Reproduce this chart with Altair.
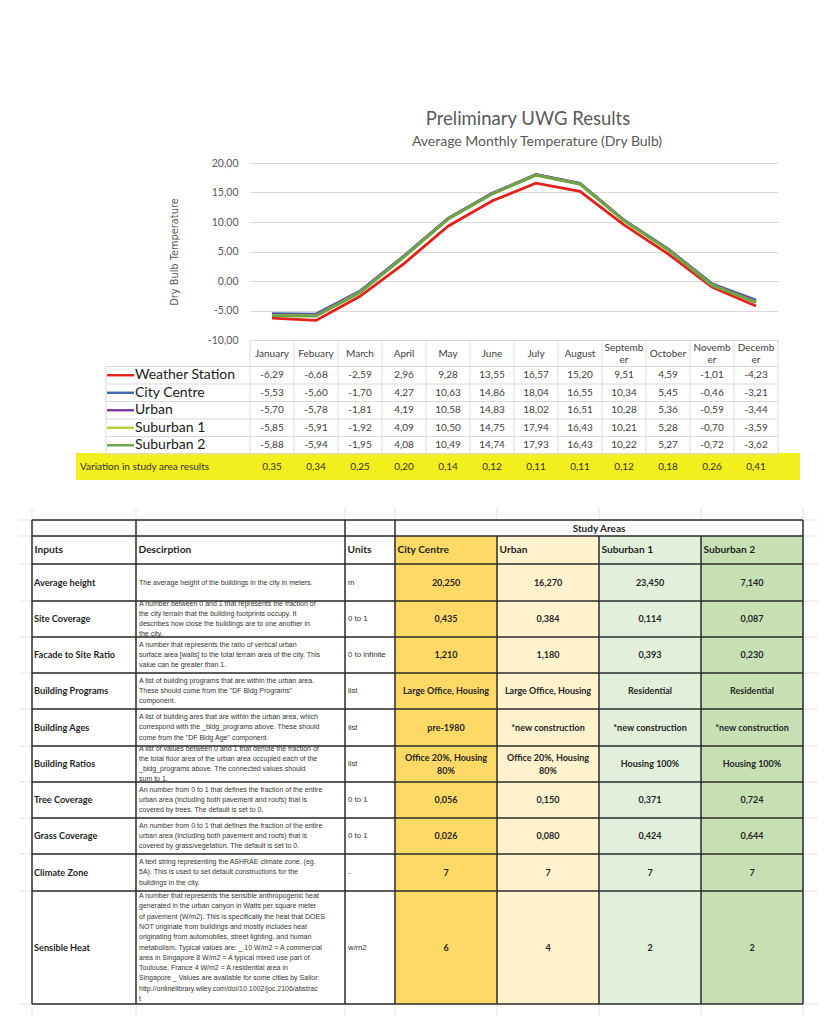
import altair as alt
import pandas as pd

# ---------------- data ----------------
main_title = "Preliminary UWG Results"
sub_title = "Average Monthly Temperature (Dry Bulb)"
y_title = "Dry Bulb Temperature"

months = ["January", "Febuary", "March", "April", "May", "June", "July",
          "August", "September", "October", "November", "December"]
month_labels = ["January", "Febuary", "March", "April", "May", "June", "July",
                "August", "Septemb\ner", "October", "Novemb\ner", "Decemb\ner"]
series_names = ["Weather Station", "City Centre", "Urban", "Suburban 1", "Suburban 2"]
weather_station = [-6.29, -6.68, -2.59, 2.96, 9.28, 13.55, 16.57, 15.20, 9.51, 4.59, -1.01, -4.23]
city_centre = [-5.53, -5.60, -1.70, 4.27, 10.63, 14.86, 18.04, 16.55, 10.34, 5.45, -0.46, -3.21]
urban = [-5.70, -5.78, -1.81, 4.19, 10.58, 14.83, 18.02, 16.51, 10.28, 5.36, -0.59, -3.44]
suburban_1 = [-5.85, -5.91, -1.92, 4.09, 10.50, 14.75, 17.94, 16.43, 10.21, 5.28, -0.70, -3.59]
suburban_2 = [-5.88, -5.94, -1.95, 4.08, 10.49, 14.74, 17.93, 16.43, 10.22, 5.27, -0.72, -3.62]
series_values = [weather_station, city_centre, urban, suburban_1, suburban_2]
variation_label = "Variation in study area results"
variation = [0.35, 0.34, 0.25, 0.20, 0.14, 0.12, 0.11, 0.11, 0.12, 0.18, 0.26, 0.41]
y_ticks = [-10, -5, 0, 5, 10, 15, 20]

study_area_title = "Study Areas"
table_headers = ["Inputs", "Descirption", "Units", "City Centre", "Urban", "Suburban 1", "Suburban 2"]
inputs = ["Average height", "Site Coverage", "Facade to Site Ratio", "Building Programs",
          "Building Ages", "Building Ratios", "Tree Coverage", "Grass Coverage",
          "Climate Zone", "Sensible Heat"]
descriptions = [
    "The average height of the buildings in the city in meters.",
    "A number between 0 and 1 that represents the fraction of\nthe city terrain that the building footprints occupy. It\ndescribes how close the buildings are to one another in\nthe city.",
    "A number that represents the ratio of vertical urban\nsurface area [walls] to the total terrain area of the city. This\nvalue can be greater than 1.",
    "A list of building programs that are within the urban area.\nThese should come from the \"DF Bldg Programs\"\ncomponent.",
    "A list of building ares that are within the urban area, which\ncorrespond with the _bldg_programs above. These should\ncome from the \"DF Bldg Age\" component.",
    "A list of values between 0 and 1 that denote the fraction of\nthe total floor area of the urban area occupied each of the\n_bldg_programs above. The connected values should\nsum to 1.",
    "An number from 0 to 1 that defines the fraction of the entire\nurban area (including both pavement and roofs) that is\ncovered by trees. The default is set to 0.",
    "An number from 0 to 1 that defines the fraction of the entire\nurban area (including both pavement and roofs) that is\ncovered by grass/vegetation. The default is set to 0.",
    "A text string representing the ASHRAE climate zone. (eg.\n5A). This is used to set default constructions for the\nbuildings in the city.",
    "A number that represents the sensible anthropogenic heat\ngenerated in the urban canyon in Watts per square meter\nof pavement (W/m2). This is specifically the heat that DOES\nNOT originate from buildings and mostly includes heat\noriginating from automobiles, street lighting, and human\nmetabolism. Typical values are: _ 10 W/m2 = A commercial\narea in Singapore 8 W/m2 = A typical mixed use part of\nToulouse, France 4 W/m2 = A residential area in\nSingapore _ Values are available for some cities by Sailor:\nhttp://onlinelibrary.wiley.com/doi/10.1002/joc.2106/abstrac\nt",
]
units = ["m", "0 to 1", "0 to infinite", "list", "list", "list", "0 to 1", "0 to 1", "-", "w/m2"]
city_centre_inputs = [20.250, 0.435, 1.210, "Large Office, Housing", "pre-1980",
                      "Office 20%, Housing\n80%", 0.056, 0.026, 7, 6]
urban_inputs = [16.270, 0.384, 1.180, "Large Office, Housing", "*new construction",
                "Office 20%, Housing\n80%", 0.150, 0.080, 7, 4]
suburban_1_inputs = [23.450, 0.114, 0.393, "Residential", "*new construction",
                     "Housing 100%", 0.371, 0.424, 7, 2]
suburban_2_inputs = [7.140, 0.087, 0.230, "Residential", "*new construction",
                     "Housing 100%", 0.724, 0.644, 7, 2]
area_inputs = [city_centre_inputs, urban_inputs, suburban_1_inputs, suburban_2_inputs]

# ---------------- styles / layout ----------------
series_colors = ["#E3211C", "#3F67A9", "#7A3D9C", "#B6CF3B", "#6AA447"]
area_fills = ["#FFD966", "#FFF2CC", "#E2EFDA", "#C6E0B4"]
GRAY = "#595959"
TXT = "#1F1F1F"
FONT = "Lato"

PW, PH = 528, 177            # plot area of the line chart
PAD_L, PAD_T = 242, 155
CW, CH = 821, 1008           # whole canvas
X0, Y0 = 8 + PAD_L, 8 + PAD_T  # page position of plot origin
COL_W = PW / 12

HDR_TOP, HDR_BOT = 340, 366.5
ROW_H = 17.5
VAR_Y = 466.5

col_edges = [32, 136, 345, 395, 497, 599, 701, 803]
row_edges = [520, 536, 564, 601, 637, 673, 709, 746, 782, 818, 854, 891, 1004]

DESC_LH = 10.3
HDR_LH = 12
CELL_LH = 13


def fmt(v, d):
    return f"{v:.{d}f}".replace(".", ",")


def first_line_y(center, text, lh):
    # y of the first line so that a multi-line block is centred on `center`
    n = str(text).count("\n") + 1
    return center - (n - 1) * lh / 2


def px(f):
    return alt.X(f, type="quantitative", axis=None,
                 scale=alt.Scale(domain=[X0, X0 + 100], range=[0, 100], nice=False, zero=False))


def py(f):
    return alt.Y(f, type="quantitative", axis=None,
                 scale=alt.Scale(domain=[Y0, Y0 + 100], range=[0, 100], nice=False, zero=False))


month_x = alt.X("month:N", sort=months, axis=None,
                scale=alt.Scale(type="point", domain=months, padding=0.5))

# ---------------- line chart ----------------
y_axis = alt.Axis(values=y_ticks,
                  labelExpr="replace(replace(format(datum.value, '.2f'), '.', ','), '\u2212', '-')",
                  grid=True, gridColor="#D9D9D9", gridWidth=1, domain=False, ticks=False,
                  labelPadding=12, labelFont=FONT, labelFontSize=10.5, labelColor=GRAY,
                  title=y_title, titleFont="DejaVu Sans", titleFontSize=9.8,
                  titleFontWeight="normal", titleColor=GRAY, titlePadding=28)
temp_y = alt.Y("temp:Q", scale=alt.Scale(domain=[-10, 20], nice=False, zero=False), axis=y_axis)

series_layers = []
for name, vals, col in zip(series_names, series_values, series_colors):
    d = pd.DataFrame({"month": months, "temp": vals, "series": name})
    series_layers.append(alt.Chart(d).mark_line(color=col, strokeWidth=2.8).encode(x=month_x, y=temp_y))
lines = alt.layer(*series_layers)

# ---------------- titles ----------------
title1 = alt.Chart(pd.DataFrame({"text": [main_title], "x": [528], "y": [119]})).mark_text(
    font=FONT, fontSize=18.5, color=GRAY).encode(x=px("x"), y=py("y"), text="text:N")
title2 = alt.Chart(pd.DataFrame({"text": [sub_title], "x": [537], "y": [142]})).mark_text(
    font=FONT, fontSize=14, color=GRAY).encode(x=px("x"), y=py("y"), text="text:N")

# ---------------- data table under chart ----------------
grid_rows = []
for k in range(13):
    grid_rows.append({"x": X0 + k * COL_W, "x2": X0 + k * COL_W, "y": HDR_TOP, "y2": HDR_BOT + 5 * ROW_H})
grid_rows.append({"x": 106, "x2": 106, "y": HDR_BOT, "y2": HDR_BOT + 5 * ROW_H})
for i in range(6):
    yy = HDR_BOT + i * ROW_H
    grid_rows.append({"x": 106, "x2": X0 + PW, "y": yy, "y2": yy})
dt_grid = alt.Chart(pd.DataFrame(grid_rows)).mark_rule(color="#D9D9D9", strokeWidth=1).encode(
    x=px("x"), x2="x2:Q", y=py("y"), y2="y2:Q")

hdr_center = (HDR_TOP + HDR_BOT) / 2 + 0.5
hdr_df = pd.DataFrame({"month": months, "label": month_labels,
                       "y": [first_line_y(hdr_center, t, HDR_LH) for t in month_labels]})
dt_hdr = alt.Chart(hdr_df).mark_text(font=FONT, fontSize=10, color="#404040", lineBreak="\n",
                                     lineHeight=HDR_LH, baseline="middle").encode(
    x=month_x, y=py("y"), text="label:N")

val_rows = []
for i, vals in enumerate(series_values):
    for m, v in zip(months, vals):
        val_rows.append({"month": m, "text": fmt(v, 2), "y": HDR_BOT + i * ROW_H + ROW_H / 2})
dt_vals = alt.Chart(pd.DataFrame(val_rows)).mark_text(font=FONT, fontSize=10, color="#404040",
                                                       baseline="middle").encode(
    x=month_x, y=py("y"), text="text:N")

key_df = pd.DataFrame({"series": series_names, "color": series_colors,
                       "x": 107, "x2": 134,
                       "y": [HDR_BOT + i * ROW_H + ROW_H / 2 for i in range(5)]})
legend_keys = alt.Chart(key_df).mark_rule(strokeWidth=2.4).encode(
    x=px("x"), x2="x2:Q", y=py("y"), color=alt.Color("color:N", scale=None))
key_df["tx"] = 135
legend_text = alt.Chart(key_df).mark_text(font=FONT, fontSize=14, color="#1a1a1a", align="left",
                                          baseline="middle").encode(
    x=px("tx"), y=py("y"), text="series:N")

hl_df = pd.DataFrame({"x": [76], "x2": [800], "y": [453], "y2": [480]})
highlight = alt.Chart(hl_df).mark_rect(color="#F3EF1C").encode(
    x=px("x"), x2="x2:Q", y=py("y"), y2="y2:Q")
var_lbl = alt.Chart(pd.DataFrame({"text": [variation_label], "x": [80], "y": [VAR_Y]})).mark_text(
    font=FONT, fontSize=10, color="#333333", align="left", baseline="middle").encode(
    x=px("x"), y=py("y"), text="text:N")
var_vals = alt.Chart(pd.DataFrame({"month": months, "text": [fmt(v, 2) for v in variation],
                                   "y": VAR_Y})).mark_text(
    font=FONT, fontSize=10, color="#333333", baseline="middle").encode(
    x=month_x, y=py("y"), text="text:N")

# ---------------- big table ----------------
fill_rows = []
for j in range(4):
    fill_rows.append({"x": col_edges[3 + j], "x2": col_edges[4 + j], "y": row_edges[1],
                      "y2": row_edges[-1], "fill": area_fills[j]})
fills = alt.Chart(pd.DataFrame(fill_rows)).mark_rect().encode(
    x=px("x"), x2="x2:Q", y=py("y"), y2="y2:Q", color=alt.Color("fill:N", scale=None))

faint = []
for yy in row_edges:
    faint.append({"x": 20, "x2": 818, "y": yy, "y2": yy})
for xx in col_edges:
    faint.append({"x": xx, "x2": xx, "y": 508, "y2": row_edges[0]})
    faint.append({"x": xx, "x2": xx, "y": row_edges[-1], "y2": 1016})
faint_grid = alt.Chart(pd.DataFrame(faint)).mark_rule(color="#E2E2E2", strokeWidth=1).encode(
    x=px("x"), x2="x2:Q", y=py("y"), y2="y2:Q")

borders = []
for yy in row_edges:
    borders.append({"x": col_edges[0], "x2": col_edges[-1], "y": yy, "y2": yy})
for k, xx in enumerate(col_edges):
    top = row_edges[1] if 4 <= k <= 6 else row_edges[0]
    borders.append({"x": xx, "x2": xx, "y": top, "y2": row_edges[-1]})
border_layer = alt.Chart(pd.DataFrame(borders)).mark_rule(color="#2B2B2B", strokeWidth=1.5).encode(
    x=px("x"), x2="x2:Q", y=py("y"), y2="y2:Q")

sa_df = pd.DataFrame({"text": [study_area_title], "x": [(col_edges[3] + col_edges[-1]) / 2],
                      "y": [(row_edges[0] + row_edges[1]) / 2 + 1]})
sa_text = alt.Chart(sa_df).mark_text(font=FONT, fontSize=10, fontWeight="bold", color=TXT,
                                     baseline="middle").encode(x=px("x"), y=py("y"), text="text:N")

th_df = pd.DataFrame({"text": table_headers, "x": [e + 2.5 for e in col_edges[:-1]],
                      "y": (row_edges[1] + row_edges[2]) / 2})
th_text = alt.Chart(th_df).mark_text(font=FONT, fontSize=10.2, fontWeight="bold", color=TXT,
                                     align="left", baseline="middle").encode(
    x=px("x"), y=py("y"), text="text:N")

centers = [(row_edges[i + 2] + row_edges[i + 3]) / 2 for i in range(len(inputs))]
in_df = pd.DataFrame({"text": inputs, "x": 34, "y": centers})
in_text = alt.Chart(in_df).mark_text(font=FONT, fontSize=9.2, fontWeight="bold", color=TXT,
                                     align="left", baseline="middle").encode(
    x=px("x"), y=py("y"), text="text:N")

de_df = pd.DataFrame({"text": descriptions, "x": 139,
                      "y": [first_line_y(c, t, DESC_LH) for c, t in zip(centers, descriptions)]})
de_text = alt.Chart(de_df).mark_text(font="Liberation Sans", fontSize=7, color="#333333",
                                     align="left", baseline="middle", lineBreak="\n",
                                     lineHeight=DESC_LH).encode(
    x=px("x"), y=py("y"), text="text:N")

un_df = pd.DataFrame({"text": units, "x": 348, "y": centers})
un_text = alt.Chart(un_df).mark_text(font="Liberation Sans", fontSize=7.8, color="#333333",
                                     align="left", baseline="middle").encode(
    x=px("x"), y=py("y"), text="text:N")

cell_rows = []
for j, vals in enumerate(area_inputs):
    cx = (col_edges[3 + j] + col_edges[4 + j]) / 2
    for v, cy in zip(vals, centers):
        t = fmt(v, 3) if isinstance(v, float) else str(v)
        cell_rows.append({"text": t, "x": cx, "y": first_line_y(cy, t, CELL_LH)})
cell_text = alt.Chart(pd.DataFrame(cell_rows)).mark_text(font=FONT, fontSize=9, fontWeight="bold",
                                                         color="#262626", baseline="middle",
                                                         lineBreak="\n", lineHeight=CELL_LH).encode(
    x=px("x"), y=py("y"), text="text:N")

chart = alt.layer(
    highlight, dt_grid, lines, title1, title2, dt_hdr, dt_vals, legend_keys, legend_text,
    var_lbl, var_vals, faint_grid, fills, border_layer, sa_text, th_text, in_text, de_text,
    un_text, cell_text,
).resolve_scale(x="independent", y="independent").properties(
    width=PW, height=PH,
    padding={"left": PAD_L, "top": PAD_T, "right": CW - PAD_L - PW, "bottom": CH - PAD_T - PH},
    autosize=alt.AutoSizeParams(type="none"),
    background="white",
).configure_view(stroke=None)

chart.save("out.html", embed_options={"renderer": "svg", "actions": False})
